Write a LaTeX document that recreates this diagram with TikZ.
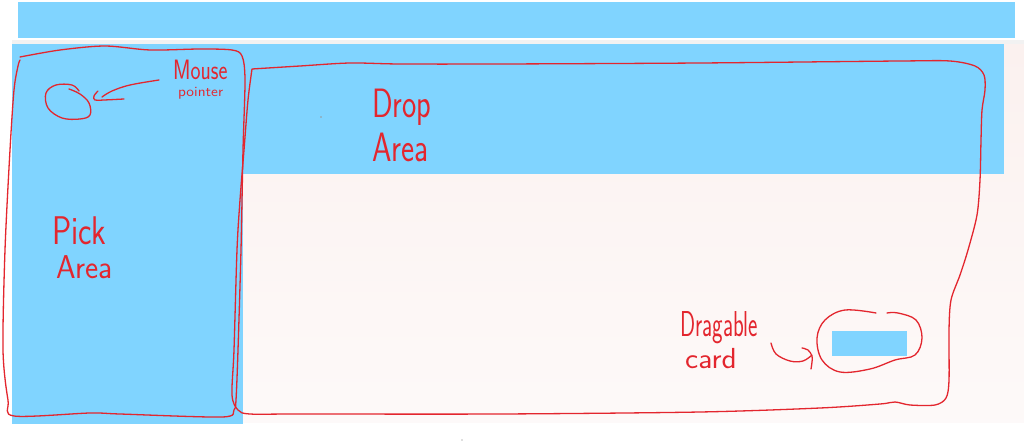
\documentclass[tikz,border=0pt]{standalone}
\usepackage{graphicx}
\definecolor{skyb}{HTML}{80D4FF}
\definecolor{pen}{HTML}{E3262E}
\definecolor{paper}{HTML}{FBF1EF}
\tikzset{
  ink/.style={draw=pen, line width=1.3pt, line cap=round, line join=round},
  hand/.style={text=pen, inner sep=0pt, anchor=base west, font=\sffamily},
}
\begin{document}
\begin{tikzpicture}[x=1pt,y=-1pt]
\useasboundingbox (0,0) rectangle (1024,446);
\fill[white] (0,0) rectangle (1024,446);
% faint paper region
\shade[top color=paper, bottom color=paper!40!white] (243,44) rectangle (1024,422);
\fill[black!5] (12,40) rectangle (1024,44);
% blue areas
\fill[skyb] (18,2) rectangle (1015,38);
\fill[skyb] (12,44) rectangle (243,424);
\fill[skyb] (243,44) rectangle (1004,174);
\fill[skyb] (832,331) rectangle (907,356);
% small dots
\fill[black!40] (321,117) circle (0.8);
\fill[black!25] (462,440) circle (0.8);
% left (pick) outline
\draw[ink] plot[smooth, tension=0.5] coordinates {(20,57) (60,50) (105,46) (150,50) (200,49) (232,50) (242,56) (245,80) (243,150) (241,250) (238,350) (236,400) (234,410) (222,417) (120,414) (90,413) (14,416) (8,400) (3,350) (5,250) (10,150) (14,90) (18,66) (20,60)};
% right (drop) outline
\draw[ink] plot[smooth, tension=0.5] coordinates {(252,69) (300,66) (350,63) (400,64) (500,64) (700,63) (900,61) (950,61) (975,66) (984,75) (985,90) (982,110) (981,140) (980,180) (977,215) (968,250) (960,275) (951,300) (949,330) (949,380) (946,398) (935,405) (910,405) (895,402) (880,404) (820,408) (700,412) (500,414) (300,414) (250,414) (238,410) (232,395) (234,350) (237,250) (240,200) (244,150) (248,100) (252,69)};
% mouse pointer circle
\draw[ink] plot[smooth, tension=0.6] coordinates {(69,89) (80,94) (89,103) (90,115) (80,119) (62,118) (48,108) (46,93) (56,85) (72,85) (79,91)};
% mouse arrow
\draw[ink] plot[smooth, tension=0.6] coordinates {(159,80) (130,85) (112,91) (102,97)};
\draw[ink] plot[smooth, tension=0.6] coordinates {(98,91) (94,96) (95,100) (104,100) (124,99)};
% card ellipse
\draw[ink] plot[smooth, tension=0.6] coordinates {(876,313) (845,310) (825,320) (817,338) (822,360) (840,372) (870,369) (895,360) (915,355) (922,338) (916,320) (898,313) (887,313)};
% card arrow
\draw[ink] plot[smooth, tension=0.6] coordinates {(771,343) (776,354) (790,361) (803,361) (812,355)};
\draw[ink] plot[smooth, tension=0.6] coordinates {(802,348) (808,350) (812,356) (812,362) (811,369)};
% texts
\node[hand] (mouse) at (173,80) {\fontsize{28}{28}\selectfont\scalebox{0.76}[1]{Mouse}};
\node[hand] (pointer) at (178,97) {\fontsize{14}{14}\selectfont\scalebox{1.12}[1]{pointer}};
\node[hand] (drop) at (372,118) {\fontsize{41}{41}\selectfont\scalebox{0.74}[1]{Drop}};
\node[hand] (darea) at (372,162) {\fontsize{41}{41}\selectfont\scalebox{0.76}[1]{Area}};
\node[hand] (pick) at (52,244) {\fontsize{40}{40}\selectfont\scalebox{0.8}[1]{Pick}};
\node[hand] (parea) at (56,278) {\fontsize{33}{33}\selectfont\scalebox{0.95}[1]{Area}};
\node[hand] (drag) at (680,336) {\fontsize{36}{36}\selectfont\scalebox{0.62}[1]{Dragable}};
\node[hand] (card) at (685,368) {\fontsize{29}{29}\selectfont\scalebox{1.08}[1]{card}};
\end{tikzpicture}
\end{document}
